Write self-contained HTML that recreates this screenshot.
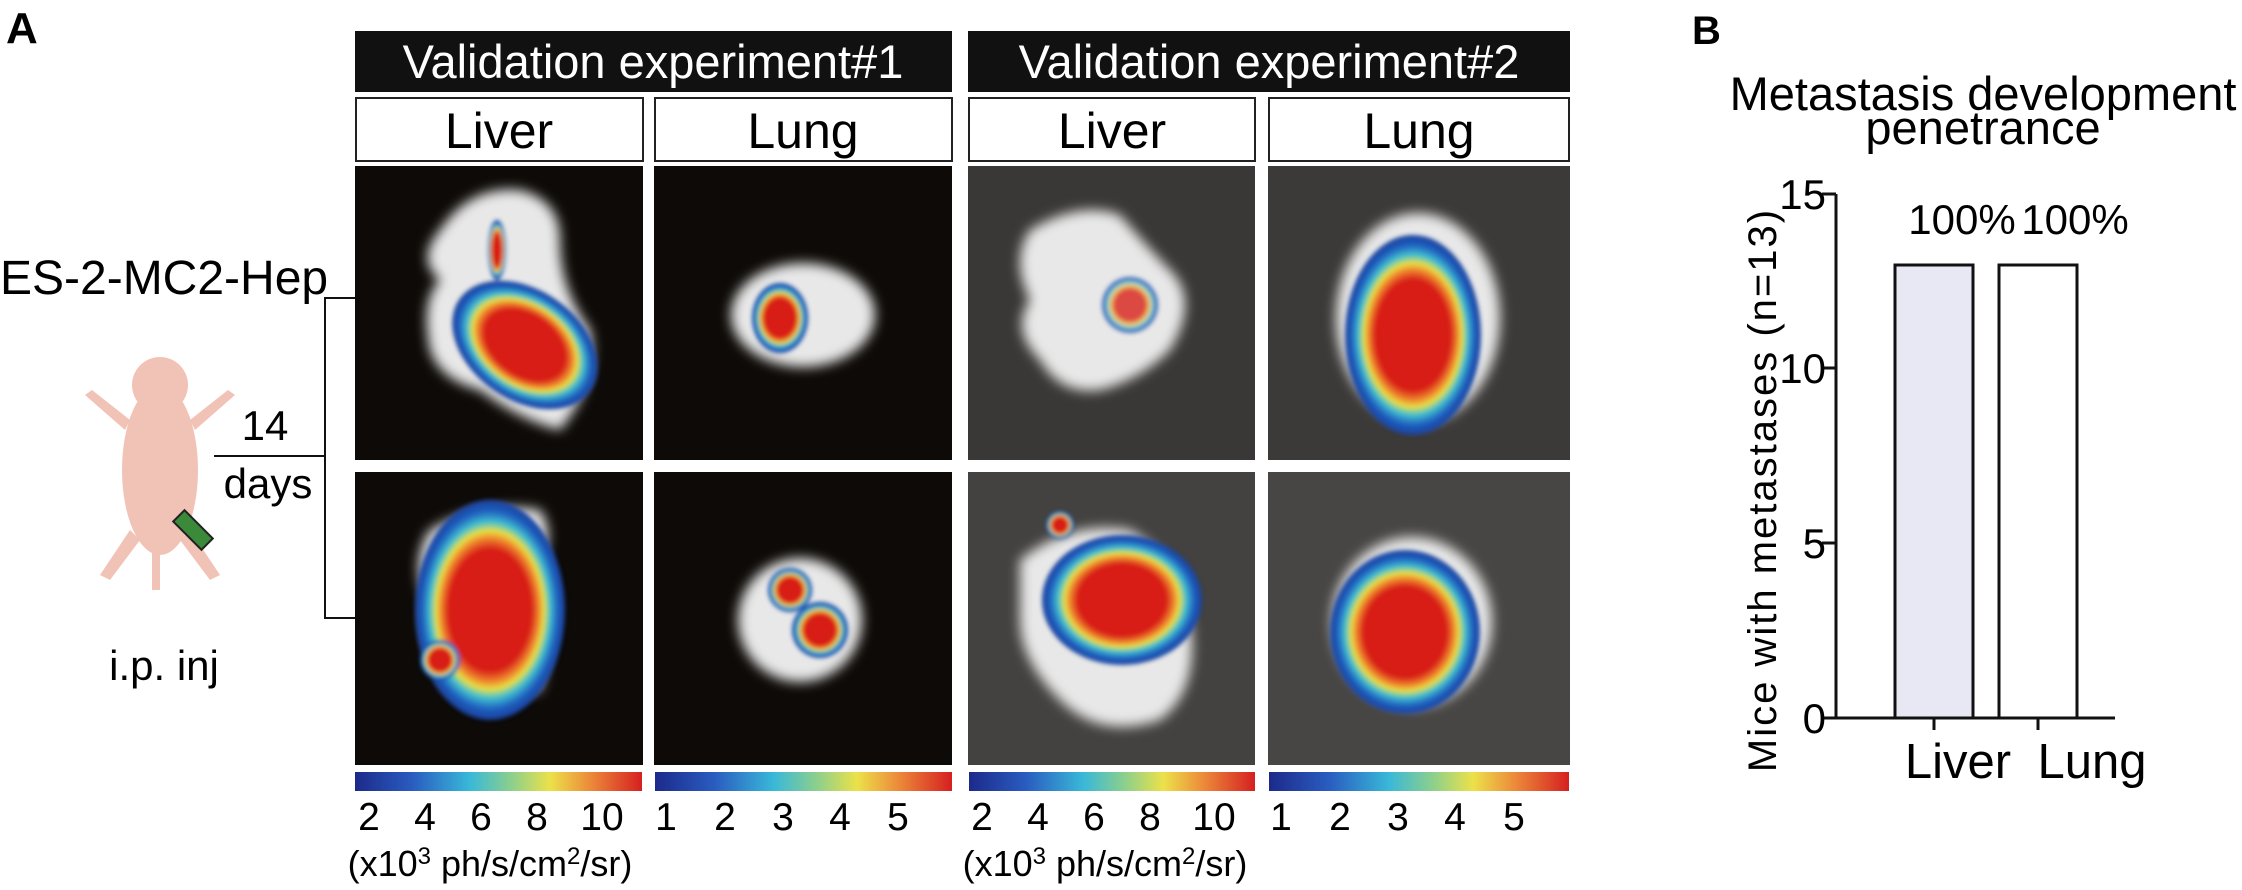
<!DOCTYPE html>
<html><head><meta charset="utf-8"><style>
body{margin:0;background:#fff;}
svg text{font-family:"Liberation Sans",Arial,sans-serif;}
</style></head><body>
<svg width="2242" height="885" viewBox="0 0 2242 885" xmlns="http://www.w3.org/2000/svg">
<defs>
<linearGradient id="cb" x1="0" x2="1" y1="0" y2="0">
<stop offset="0" stop-color="#1c2a8a"/><stop offset="0.2" stop-color="#2a5cc0"/><stop offset="0.4" stop-color="#39b8d8"/><stop offset="0.55" stop-color="#8fd08a"/><stop offset="0.68" stop-color="#ece14a"/><stop offset="0.82" stop-color="#ec8a3a"/><stop offset="1" stop-color="#d52020"/>
</linearGradient>
<radialGradient id="heat"><stop offset="0.55" stop-color="#d81e18"/><stop offset="0.66" stop-color="#f09030"/><stop offset="0.72" stop-color="#e8e040"/><stop offset="0.8" stop-color="#40c0d0"/><stop offset="0.9" stop-color="#2060c0"/><stop offset="1" stop-color="#1a3f9a"/></radialGradient>
<filter id="bl"><feGaussianBlur stdDeviation="6"/></filter>
<filter id="bl2"><feGaussianBlur stdDeviation="2"/></filter>
</defs>
<text x="6" y="43" font-size="44" font-weight="bold">A</text>
<text x="1692" y="44" font-size="40" font-weight="bold">B</text>

<rect x="355" y="31" width="597" height="61" fill="#111"/>
<text x="653" y="78" font-size="47" fill="#fff" text-anchor="middle">Validation experiment#1</text>
<rect x="968" y="31" width="602" height="61" fill="#111"/>
<text x="1269" y="78" font-size="47" fill="#fff" text-anchor="middle">Validation experiment#2</text>
<g fill="#fff" stroke="#222" stroke-width="2">
<rect x="356" y="98" width="287" height="63"/><rect x="655" y="98" width="297" height="63"/>
<rect x="969" y="98" width="286" height="63"/><rect x="1269" y="98" width="300" height="63"/>
</g>
<g font-size="50" text-anchor="middle">
<text x="499" y="148">Liver</text><text x="803" y="148">Lung</text>
<text x="1112" y="148">Liver</text><text x="1419" y="148">Lung</text>
</g>

<rect x="355" y="166" width="288" height="294" fill="#0d0a07"/>
<rect x="654" y="166" width="298" height="294" fill="#0d0a07"/>
<rect x="355" y="472" width="288" height="293" fill="#0d0a07"/>
<rect x="654" y="472" width="298" height="293" fill="#0d0a07"/>
<rect x="968" y="166" width="287" height="294" fill="#3a3836"/>
<rect x="1268" y="166" width="302" height="294" fill="#3c3a38"/>
<rect x="968" y="472" width="287" height="293" fill="#444240"/>
<rect x="1268" y="472" width="302" height="293" fill="#484644"/>

<g filter="url(#bl)" fill="#e8e8e8">
<path d="M440 230 Q470 185 520 190 Q560 200 560 240 Q560 290 590 330 Q600 380 560 430 Q520 420 480 390 Q440 380 430 350 Q420 300 440 280 Q415 260 440 230Z"/>
<path d="M430 530 Q480 500 540 510 Q560 540 530 580 Q560 620 540 690 Q510 700 450 690 Q420 650 425 600 Q410 560 430 530Z"/>
<ellipse cx="803" cy="315" rx="72" ry="52"/>
<circle cx="800" cy="620" r="62"/>
<path d="M1030 230 Q1080 200 1120 215 Q1150 250 1170 270 Q1200 300 1170 350 Q1140 380 1100 390 Q1060 395 1040 360 Q1010 330 1030 300 Q1010 260 1030 230Z"/>
<path d="M1020 560 Q1070 520 1130 530 Q1180 560 1190 620 Q1200 690 1160 720 Q1100 740 1060 700 Q1020 660 1020 620Z"/>
<ellipse cx="1418" cy="318" rx="82" ry="105"/>
<ellipse cx="1412" cy="622" rx="80" ry="85"/>
</g>
<g filter="url(#bl2)">
<ellipse cx="525" cy="345" rx="80" ry="55" transform="rotate(35 525 345)" fill="url(#heat)"/>
<ellipse cx="497" cy="250" rx="9" ry="30" fill="url(#heat)"/>
<ellipse cx="490" cy="610" rx="75" ry="110" fill="url(#heat)"/>
<circle cx="440" cy="660" r="20" fill="url(#heat)"/>
<ellipse cx="780" cy="318" rx="28" ry="35" fill="url(#heat)"/>
<circle cx="790" cy="590" r="22" fill="url(#heat)"/>
<circle cx="820" cy="630" r="28" fill="url(#heat)"/>
<circle cx="1130" cy="305" r="28" fill="url(#heat)" opacity="0.8"/>
<ellipse cx="1122" cy="600" rx="80" ry="65" fill="url(#heat)"/>
<circle cx="1060" cy="525" r="14" fill="url(#heat)"/>
<ellipse cx="1413" cy="335" rx="68" ry="100" fill="url(#heat)"/>
<ellipse cx="1405" cy="632" rx="75" ry="82" fill="url(#heat)"/>
</g>

<rect x="355" y="772" width="287" height="19" fill="url(#cb)"/>
<rect x="655" y="772" width="297" height="19" fill="url(#cb)"/>
<rect x="969" y="772" width="286" height="19" fill="url(#cb)"/>
<rect x="1269" y="772" width="300" height="19" fill="url(#cb)"/>
<g font-size="39" text-anchor="middle">
<text x="369" y="830">2</text><text x="425" y="830">4</text><text x="481" y="830">6</text><text x="537" y="830">8</text><text x="602" y="830">10</text>
<text x="666" y="830">1</text><text x="725" y="830">2</text><text x="783" y="830">3</text><text x="840" y="830">4</text><text x="898" y="830">5</text>
<text x="982" y="830">2</text><text x="1038" y="830">4</text><text x="1094" y="830">6</text><text x="1150" y="830">8</text><text x="1214" y="830">10</text>
<text x="1281" y="830">1</text><text x="1340" y="830">2</text><text x="1398" y="830">3</text><text x="1455" y="830">4</text><text x="1514" y="830">5</text>
</g>
<g font-size="36" text-anchor="middle">
<text x="490" y="876">(x10<tspan font-size="24" dy="-12">3</tspan><tspan dy="12"> ph/s/cm</tspan><tspan font-size="24" dy="-12">2</tspan><tspan dy="12">/sr)</tspan></text>
<text x="1105" y="876">(x10<tspan font-size="24" dy="-12">3</tspan><tspan dy="12"> ph/s/cm</tspan><tspan font-size="24" dy="-12">2</tspan><tspan dy="12">/sr)</tspan></text>
</g>

<text x="0" y="294" font-size="48">ES-2-MC2-Hep</text>
<path d="M355 298 H325 V618 H355" fill="none" stroke="#111" stroke-width="2"/>
<line x1="214" y1="456" x2="325" y2="456" stroke="#111" stroke-width="2"/>
<text x="265" y="440" font-size="42" text-anchor="middle">14</text>
<text x="268" y="498" font-size="42" text-anchor="middle">days</text>
<g fill="#f1c3b6">
<ellipse cx="160" cy="470" rx="38" ry="85"/>
<circle cx="160" cy="385" r="28"/>
<path d="M125 430 L85 395 L92 390 L130 420Z"/><path d="M195 430 L235 395 L228 390 L190 420Z"/>
<path d="M130 530 L100 575 L110 580 L140 540Z"/><path d="M190 530 L220 575 L210 580 L180 540Z"/>
<rect x="152" y="550" width="8" height="40"/>
</g>
<rect x="185" y="510" width="16" height="40" fill="#3a8a3a" stroke="#222" stroke-width="2" transform="rotate(-45 193 530)"/>
<text x="164" y="680" font-size="42" text-anchor="middle">i.p. inj</text>

<g font-size="47" text-anchor="middle">
<text x="1983" y="110">Metastasis development</text>
<text x="1983" y="144">penetrance</text>
</g>
<text transform="translate(1776 490) rotate(-90)" font-size="40" letter-spacing="2" text-anchor="middle">Mice with metastases (n=13)</text>
<g stroke="#111" stroke-width="3" fill="none">
<line x1="1836" y1="194" x2="1836" y2="718"/>
<line x1="1822" y1="194" x2="1836" y2="194"/><line x1="1822" y1="368" x2="1836" y2="368"/>
<line x1="1822" y1="543" x2="1836" y2="543"/><line x1="1822" y1="718" x2="1836" y2="718"/>
<line x1="1836" y1="718" x2="2115" y2="718"/>
<line x1="1934" y1="718" x2="1934" y2="730"/><line x1="2038" y1="718" x2="2038" y2="730"/>
</g>
<g font-size="42" text-anchor="end">
<text x="1826" y="209">15</text><text x="1826" y="383">10</text><text x="1826" y="558">5</text><text x="1826" y="733">0</text>
</g>
<rect x="1895" y="265" width="78" height="453" fill="#e8e8f5" stroke="#111" stroke-width="3"/>
<rect x="1999" y="265" width="78" height="453" fill="#fff" stroke="#111" stroke-width="3"/>
<g font-size="42" text-anchor="middle">
<text x="1962" y="234">100%</text><text x="2075" y="234">100%</text>
</g>
<g font-size="49" text-anchor="middle">
<text x="1958" y="778">Liver</text><text x="2092" y="778">Lung</text>
</g>
</svg>
</body></html>
